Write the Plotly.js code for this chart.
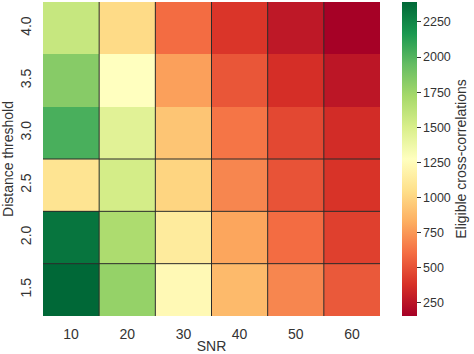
<!DOCTYPE html>
<html>
<head>
<meta charset="utf-8">
<script src="https://cdn.plot.ly/plotly-3.0.1.min.js"></script>
<style>html,body{margin:0;padding:0;background:#fff;}#chart{width:474px;height:354px;}</style>
</head>
<body>
<div id="chart"></div>
<script>
// Data
const snrLabels = ["10", "20", "30", "40", "50", "60"];
const thresholdLabels = ["1.5", "2.0", "2.5", "3.0", "3.5", "4.0"];
// rows ordered from threshold 1.5 (bottom) to 4.0 (top)
const row15 = [2390, 1780, 1230, 880, 690, 530];
const row20 = [2330, 1690, 1130, 800, 600, 440];
const row25 = [1080, 1520, 1000, 690, 510, 390];
const row30 = [2030, 1450, 930, 630, 470, 360];
const row35 = [1830, 1274, 780, 520, 370, 260];
const row40 = [1580, 1030, 600, 400, 270, 160];
const colorbarTicks = [250, 500, 750, 1000, 1250, 1500, 1750, 2000, 2250];

const z = [row15, row20, row25, row30, row35, row40];

const rdylgn = [
  [0.0, '#a50026'], [0.1, '#d73027'], [0.2, '#f46d43'], [0.3, '#fdae61'],
  [0.4, '#fee08b'], [0.5, '#ffffbf'], [0.6, '#d9ef8b'], [0.7, '#a6d96a'],
  [0.8, '#66bd63'], [0.9, '#1a9850'], [1.0, '#006837']
];

const font = {family: 'Liberation Sans, Arial, sans-serif', color: '#333'};

const trace = {
  type: 'heatmap',
  x: snrLabels,
  y: thresholdLabels,
  z: z,
  colorscale: rdylgn,
  zmin: 157,
  zmax: 2392,
  hoverinfo: 'x+y+z',
  colorbar: {
    x: 1.065, xanchor: 'left', xpad: 0,
    y: 0, yanchor: 'bottom', len: 1, ypad: 0,
    thickness: 15,
    outlinewidth: 0,
    tickvals: colorbarTicks,
    ticks: 'outside', ticklen: 4, tickwidth: 1, tickcolor: '#333',
    tickfont: Object.assign({size: 12.5}, font),
    title: {text: 'Eligible cross-correlations', side: 'right', font: Object.assign({size: 14}, font)}
  }
};

// grid separators: all internal column boundaries, lower three row boundaries
const shapes = [];
for (let i = 0; i < snrLabels.length - 1; i++) {
  shapes.push({type: 'line', xref: 'x', yref: 'paper', x0: i + 0.5, x1: i + 0.5, y0: 0, y1: 1,
    line: {color: '#2b2b2b', width: 1}});
}
for (let j = 0; j < 3; j++) {
  shapes.push({type: 'line', xref: 'paper', yref: 'y', x0: 0, x1: 1, y0: j + 0.5, y1: j + 0.5,
    line: {color: '#2b2b2b', width: 1}});
}

const layout = {
  width: 474, height: 354,
  margin: {l: 43, r: 94, t: 2, b: 38, pad: 0},
  paper_bgcolor: '#fff', plot_bgcolor: '#fff',
  font: font,
  shapes: shapes,
  xaxis: {
    type: 'category', showgrid: false, zeroline: false, ticks: '',
    ticklabelstandoff: 8,
    tickfont: Object.assign({size: 14}, font),
    title: {text: 'SNR', font: Object.assign({size: 14}, font), standoff: 6}
  },
  yaxis: {
    type: 'category', showgrid: false, zeroline: false, ticks: '',
    tickangle: -90,
    ticklabelstandoff: 8,
    tickfont: Object.assign({size: 14}, font),
    title: {text: 'Distance threshold', font: Object.assign({size: 14}, font), standoff: 6}
  }
};

Plotly.newPlot('chart', [trace], layout, {displayModeBar: false, staticPlot: true});
</script>
</body>
</html>
